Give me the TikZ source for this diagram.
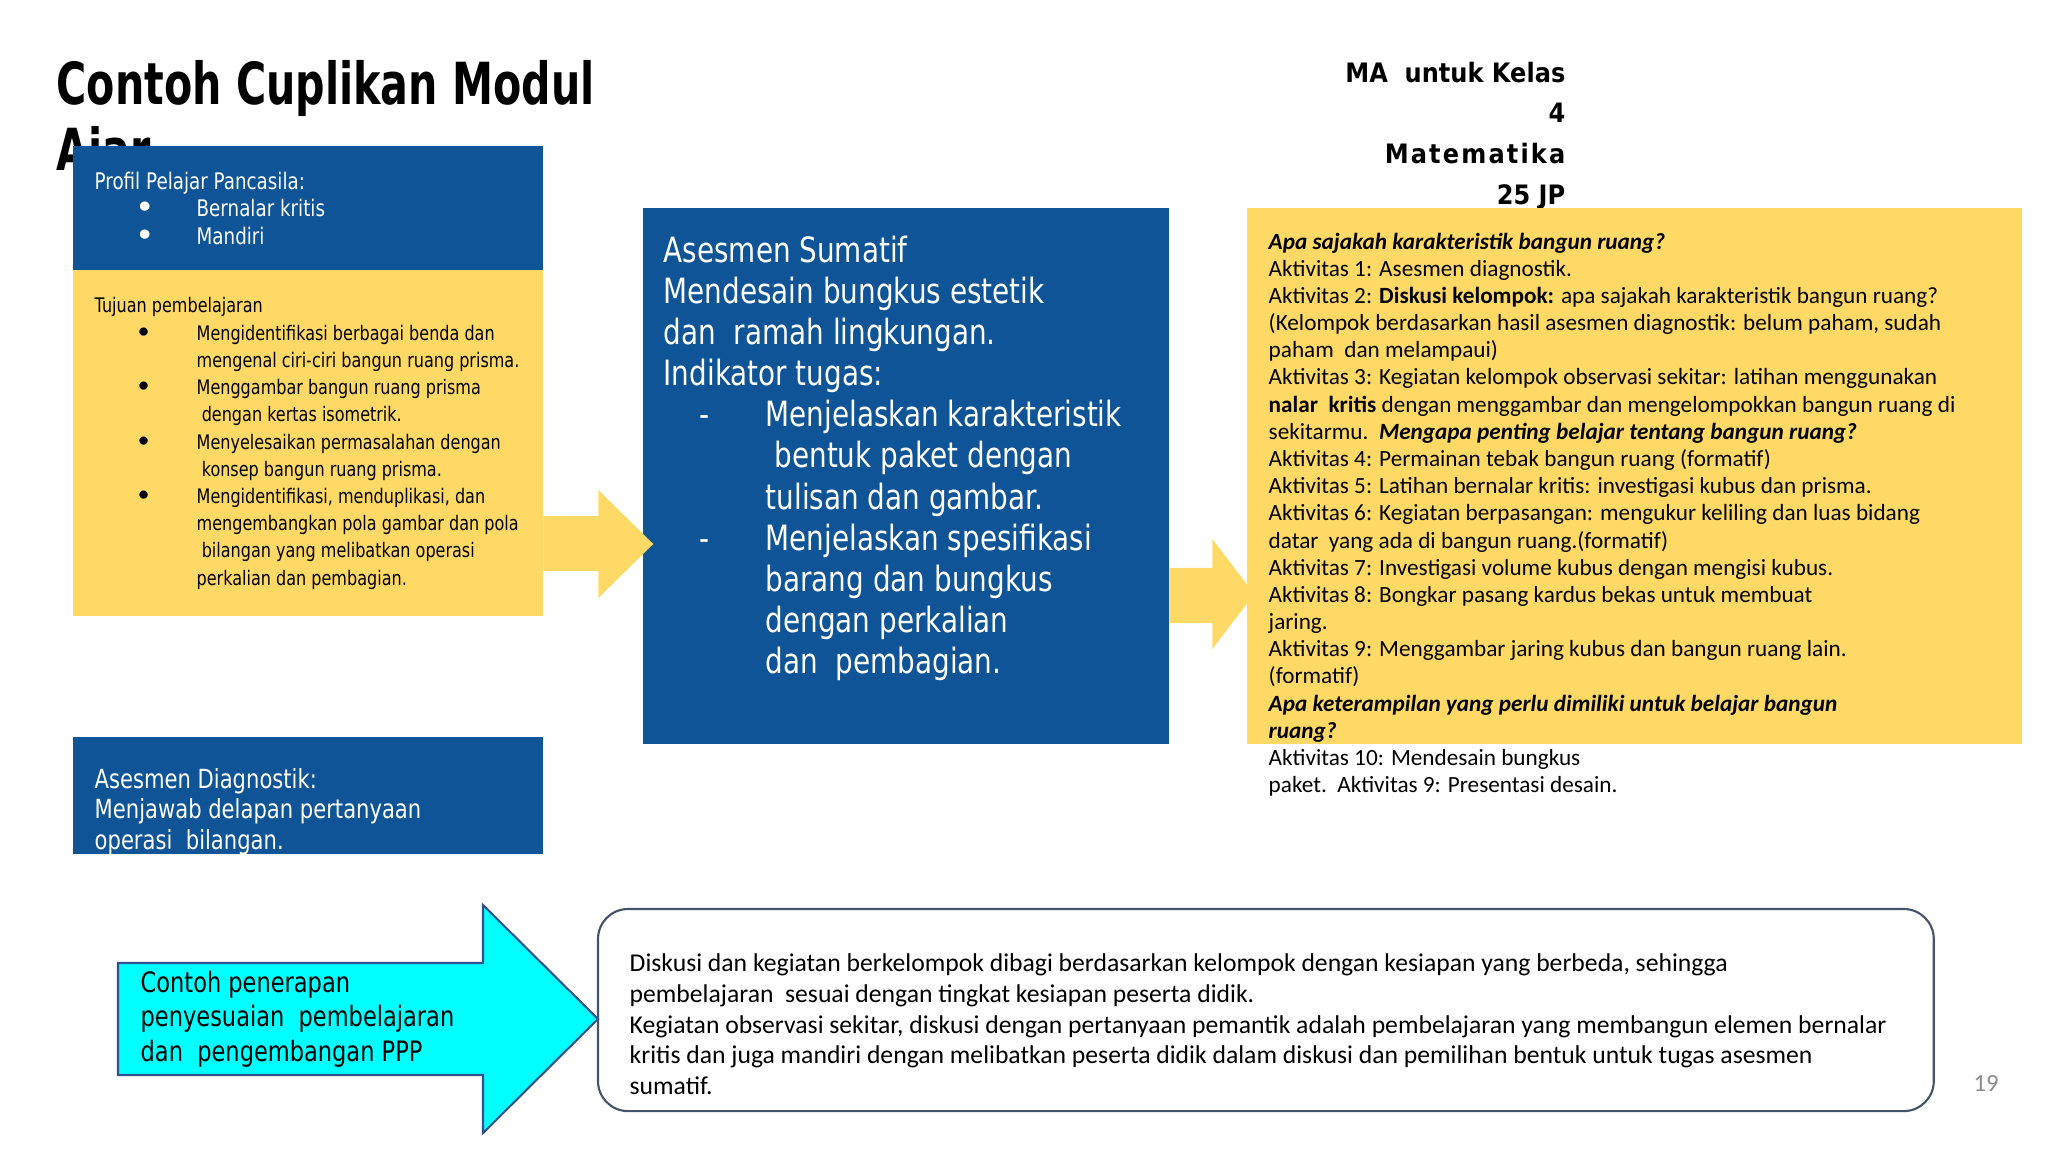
\documentclass[tikz,border=0pt]{standalone}
\usepackage{graphicx}
\usepackage{fontspec}
\setmainfont{DejaVu Sans}[FakeStretch=0.8]
\newfontfamily\judulfont{DejaVu Sans}[FakeStretch=0.71]
\newfontfamily\kepalafont{DejaVu Sans}[FakeStretch=0.9]
\newfontfamily\kalibri{Carlito}

\definecolor{biru}{HTML}{0F5496}
\definecolor{kuning}{HTML}{FFD966}
\definecolor{sian}{HTML}{00FFFF}
\definecolor{garis}{HTML}{2F528F}
\definecolor{bingkai}{HTML}{44546A}
\definecolor{abu}{HTML}{8C8C8C}

% bullet / dash in a list line, and the indent of the next lines
\newcommand{\butir}[2][12pt]{\hspace*{#1}\makebox[\dimexpr29pt-#1\relax][l]{#2}}
\newcommand{\lanjut}{\hspace*{29pt}}
\newcommand{\titik}{\raisebox{-0.6pt}{\scalebox{1.8}[1.4]{\textbullet}}}

\begin{document}
\begin{tikzpicture}[x=0.01cm,y=-0.01cm,
	kotak/.style={anchor=north west,inner sep=0pt,outer sep=0pt},
	birukotak/.style={kotak,fill=biru},
	kuningkotak/.style={kotak,fill=kuning},
	teks/.style={anchor=north west,inner sep=0pt,align=left},
	putih/.style={teks,text=white},
	panahkuning/.style={fill=kuning},
	panahsian/.style={fill=sian,draw=garis,line width=0.6pt}]
	\useasboundingbox (0,0) rectangle (2048,1152);
	\fill[white] (0,0) rectangle (2048,1152);

	% judul dan keterangan kelas
	\node[teks,font=\judulfont\bfseries\fontsize{16.5}{18.7}\selectfont] (judul) at (56,60) {Contoh Cuplikan Modul\\Ajar};
	\node[teks,anchor=north east,align=right,font=\kepalafont\bfseries\fontsize{7.6}{11.6}\selectfont] (kelas) at (1566,61) {MA\ \ untuk Kelas\\4\\{\addfontfeatures{LetterSpace=8}Matematika}\\25 JP};

	% kotak
	\node[birukotak,minimum width=4.70cm,minimum height=1.24cm] (profil) at (73,146) {};
	\node[kuningkotak,minimum width=4.70cm,minimum height=3.46cm] (tujuan) at (73,270) {};
	\node[birukotak,minimum width=5.26cm,minimum height=5.36cm] (sumatif) at (643,208) {};
	\node[kuningkotak,minimum width=7.75cm,minimum height=5.36cm] (kegiatan) at (1247,208) {};
	\node[birukotak,minimum width=4.70cm,minimum height=1.17cm] (diagnostik) at (73,737) {};
	\node[kotak,draw=bingkai,line width=0.6pt,rounded corners=0.3cm,minimum width=13.35cm,minimum height=2.02cm] (catatan) at (598,909) {};

	% panah
	\fill[panahkuning] (tujuan.east |- 0,516) -- ++(55,0) -- ++(0,-26) -- ++(55,54) -- ++(-55,54) -- ++(0,-27) -- ++(-55,0) -- cycle;
	\fill[panahkuning] (sumatif.east |- 0,568) -- ++(43,0) -- ++(0,-29) -- ++(42,55) -- ++(-42,55) -- ++(0,-26) -- ++(-43,0) -- cycle;
	\filldraw[panahsian] (118,963) -- (483,963) -- (483,905) -- (catatan.west |- 0,1019) -- (483,1133) -- (483,1075) -- (118,1075) -- cycle;

	% isi kotak
	\node[putih,font=\fontsize{6.5}{7.9}\selectfont] (profilteks) at (94,171) {Profil Pelajar Pancasila:\\
		\butir[11.5pt]{\titik}Bernalar kritis\\
		\butir[11.5pt]{\titik}Mandiri};
	\node[teks,font=\fontsize{5.7}{7.74}\selectfont] (tujuanteks) at (94,297) {Tujuan pembelajaran\\
		\butir[11.5pt]{\titik}Mengidentifikasi berbagai benda dan\\
		\lanjut mengenal ciri-ciri bangun ruang prisma.\\
		\butir[11.5pt]{\titik}Menggambar bangun ruang prisma\\
		\lanjut\ dengan kertas isometrik.\\
		\butir[11.5pt]{\titik}Menyelesaikan permasalahan dengan\\
		\lanjut\ konsep bangun ruang prisma.\\
		\butir[11.5pt]{\titik}Mengidentifikasi, menduplikasi, dan\\
		\lanjut mengembangkan pola gambar dan pola\\
		\lanjut\ bilangan yang melibatkan operasi\\
		\lanjut perkalian dan pembagian.};
	\node[putih,font=\fontsize{9.9}{11.7}\selectfont] (sumatifteks) at (663,235) {Asesmen Sumatif\\
		Mendesain bungkus estetik\\
		dan\ \ ramah lingkungan.\\
		Indikator tugas:\\
		\butir[10.3pt]{-}Menjelaskan karakteristik\\
		\lanjut\ bentuk paket dengan\\
		\lanjut tulisan dan gambar.\\
		\butir[10.3pt]{-}Menjelaskan spesifikasi\\
		\lanjut barang dan bungkus\\
		\lanjut dengan perkalian\\
		\lanjut dan\ \ pembagian.};
	\node[teks,font=\kalibri\fontsize{6.6}{7.73}\selectfont] (kegiatanteks) at (1268,232) {\textbf{\textit{Apa sajakah karakteristik bangun ruang?}}\\
		Aktivitas 1: Asesmen diagnostik.\\
		Aktivitas 2: \textbf{Diskusi kelompok:} apa sajakah karakteristik bangun ruang?\\
		(Kelompok berdasarkan hasil asesmen diagnostik: belum paham, sudah\\
		paham\ \ dan melampaui)\\
		Aktivitas 3: Kegiatan kelompok observasi sekitar: latihan menggunakan\\
		\textbf{nalar\ \ kritis} dengan menggambar dan mengelompokkan bangun ruang di\\
		sekitarmu.\ \ \textbf{\textit{Mengapa penting belajar tentang bangun ruang?}}\\
		Aktivitas 4: Permainan tebak bangun ruang (formatif)\\
		Aktivitas 5: Latihan bernalar kritis: investigasi kubus dan prisma.\\
		Aktivitas 6: Kegiatan berpasangan: mengukur keliling dan luas bidang\\
		datar\ \ yang ada di bangun ruang.(formatif)\\
		Aktivitas 7: Investigasi volume kubus dengan mengisi kubus.\\
		Aktivitas 8: Bongkar pasang kardus bekas untuk membuat\\
		jaring.\\
		Aktivitas 9: Menggambar jaring kubus dan bangun ruang lain.\\
		(formatif)\\
		\textbf{\textit{Apa keterampilan yang perlu dimiliki untuk belajar bangun}}\\
		\textbf{\textit{ruang?}}\\
		Aktivitas 10: Mendesain bungkus\\
		paket.\ \ Aktivitas 9: Presentasi desain.};
	\node[putih,font=\fontsize{7.5}{8.6}\selectfont] (diagnostikteks) at (94,768) {Asesmen Diagnostik:\\
		Menjawab delapan pertanyaan\\
		operasi\ \ bilangan.};
	\node[teks,font=\fontsize{8}{9.8}\selectfont] (penerapan) at (140,970) {Contoh penerapan\\
		penyesuaian\ \ pembelajaran\\
		dan\ \ pengembangan PPP};
	\node[teks,font=\kalibri\fontsize{7.3}{8.75}\selectfont] (catatanteks) at (629,953) {Diskusi dan kegiatan berkelompok dibagi berdasarkan kelompok dengan kesiapan yang berbeda, sehingga\\
		pembelajaran\ \ sesuai dengan tingkat kesiapan peserta didik.\\
		Kegiatan observasi sekitar, diskusi dengan pertanyaan pemantik adalah pembelajaran yang membangun elemen bernalar\\
		kritis dan juga mandiri dengan melibatkan peserta didik dalam diskusi dan pemilihan bentuk untuk tugas asesmen\\
		sumatif.};
	\node[text=abu,font=\kalibri\fontsize{7}{8}\selectfont] (halaman) at (1986,1084) {19};
\end{tikzpicture}
\end{document}
